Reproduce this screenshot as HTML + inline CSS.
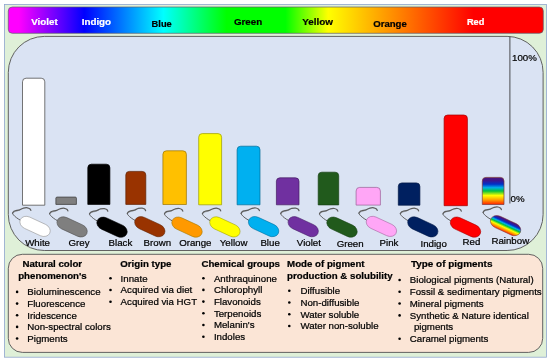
<!DOCTYPE html><html><head><meta charset="utf-8"><title>Bacterial pigments</title>
<style>html,body{margin:0;padding:0;background:#fff}svg{display:block}text{font-family:"Liberation Sans",Arial,Helvetica,sans-serif;font-size:9.7px;fill:#000;stroke:#000;stroke-width:0.22px;paint-order:stroke}.b{font-weight:bold}.w{fill:#fff;stroke:#fff}</style></head><body>
<svg width="550" height="362" viewBox="0 0 550 362">
<defs>
<linearGradient id="sp" x1="0" y1="0" x2="1" y2="0"><stop offset="0" stop-color="#ff00ff"/><stop offset="0.02" stop-color="#ff00ff"/><stop offset="0.142" stop-color="#0000ff"/><stop offset="0.29" stop-color="#00ffff"/><stop offset="0.408" stop-color="#00ff00"/><stop offset="0.518" stop-color="#00ff00"/><stop offset="0.598" stop-color="#ffff00"/><stop offset="0.87" stop-color="#ff0000"/><stop offset="1" stop-color="#ff0000"/></linearGradient>
<linearGradient id="rb" x1="0" y1="0" x2="0" y2="1"><stop offset="0" stop-color="#4a1478"/><stop offset="0.12" stop-color="#3a1590"/><stop offset="0.25" stop-color="#0030c8"/><stop offset="0.38" stop-color="#00b0e8"/><stop offset="0.5" stop-color="#00c040"/><stop offset="0.67" stop-color="#ffff00"/><stop offset="0.84" stop-color="#ff9800"/><stop offset="1" stop-color="#ff2000"/></linearGradient>
</defs>
<rect x="0" y="0" width="550" height="362" fill="#fff"/>
<rect x="4.4" y="4.4" width="542.1" height="352.8" fill="#dff0d8" stroke="#8fa6cf" stroke-width="0.8"/>
<rect x="8.3" y="7.0" width="535" height="26.3" rx="4" fill="url(#sp)" stroke="#5f5f6b" stroke-width="0.7"/>
<rect x="8.3" y="36.4" width="534.8" height="214.1" rx="36" fill="#dae3f3" stroke="#5a5a5a" stroke-width="0.95"/>
<rect x="8.3" y="254.3" width="534.4" height="98.1" rx="14" fill="#fbe5d6" stroke="#5a5a5a" stroke-width="0.95"/>
<line x1="509.9" y1="36.6" x2="509.9" y2="203.5" stroke="#262626" stroke-width="0.8"/>
<text x="512" y="61.2">100%</text>
<text x="510.6" y="202.3">0%</text>
<text class="b w" x="31.3" y="25.0" style="font-size:9.75px">Violet</text>
<text class="b w" x="81.7" y="25.0" style="font-size:9.8px">Indigo</text>
<text class="b " x="151.6" y="26.5" style="font-size:9.3px">Blue</text>
<text class="b " x="233.9" y="24.9" style="font-size:9.8px">Green</text>
<text class="b " x="302.3" y="24.9" style="font-size:9.9px">Yellow</text>
<text class="b " x="373.2" y="26.5" style="font-size:9.6px">Orange</text>
<text class="b w" x="466.9" y="25.2" style="font-size:9.2px">Red</text>
<path d="M22.5 205.2V81.8Q22.5 78.2 26.1 78.2H41.2Q44.8 78.2 44.8 81.8V205.2Z" fill="#ffffff" stroke="#5c5c5c" stroke-width="0.85"/>
<path d="M55.9 204.4V198.2Q55.9 197.1 57.1 197.1H75.2Q76.4 197.1 76.4 198.2V204.4Z" fill="#7f7f7f" stroke="#484848" stroke-width="0.85"/>
<path d="M87.8 204.4V167.8Q87.8 164.2 91.4 164.2H106.3Q109.9 164.2 109.9 167.8V204.4Z" fill="#000000" stroke="#000000" stroke-width="0.7"/>
<path d="M125.8 204.4V175.0Q125.8 171.4 129.4 171.4H142.2Q145.8 171.4 145.8 175.0V204.4Z" fill="#993300" stroke="#5e2000" stroke-width="0.7"/>
<path d="M162.9 204.5V154.3Q162.9 150.8 166.5 150.8H182.8Q186.4 150.8 186.4 154.3V204.5Z" fill="#ffc000" stroke="#9a7400" stroke-width="0.7"/>
<path d="M198.7 204.8V137.2Q198.7 133.6 202.3 133.6H218.0Q221.6 133.6 221.6 137.2V204.8Z" fill="#ffff00" stroke="#9a9a00" stroke-width="0.7"/>
<path d="M237.1 204.8V149.8Q237.1 146.2 240.7 146.2H256.4Q260.0 146.2 260.0 149.8V204.8Z" fill="#00b0f0" stroke="#006a96" stroke-width="0.7"/>
<path d="M276.4 204.8V181.3Q276.4 177.8 280.0 177.8H295.4Q299.0 177.8 299.0 181.3V204.8Z" fill="#7030a0" stroke="#431b62" stroke-width="0.7"/>
<path d="M318.2 204.9V175.8Q318.2 172.2 321.8 172.2H335.1Q338.7 172.2 338.7 175.8V204.9Z" fill="#215a1c" stroke="#174014" stroke-width="0.7"/>
<path d="M356.1 205.1V191.0Q356.1 187.4 359.7 187.4H376.8Q380.4 187.4 380.4 191.0V205.1Z" fill="#ffa6f6" stroke="#9a5f96" stroke-width="0.7"/>
<path d="M398.3 205.2V186.5Q398.3 182.9 401.9 182.9H416.3Q419.9 182.9 419.9 186.5V205.2Z" fill="#002060" stroke="#001745" stroke-width="0.7"/>
<path d="M444.1 205.7V118.5Q444.1 115.0 447.7 115.0H463.8Q467.4 115.0 467.4 118.5V205.7Z" fill="#ff0000" stroke="#a00000" stroke-width="0.7"/>
<path d="M482.3 204.5V181.0Q482.3 177.4 485.9 177.4H500.4Q504.0 177.4 504.0 181.0V204.5Z" fill="url(#rb)" stroke="#7a3a3a" stroke-width="0.7"/>
<g transform="translate(-76.95 -0.80)">
<path d="M89.7 214C90.6 212.9 92.4 212.7 94.4 212.2C96.6 211.6 98.4 210.2 100.5 208.9L96.6 210.7C94.6 211.3 91.6 211.4 90.8 212.2Z" fill="#a8aeb8" stroke="none"/>
<path d="M97 220.8C95 219.8 91.5 217.2 90.4 215.7C89.8 214.9 89.4 214.5 89.5 214" fill="none" stroke="#484848" stroke-width="0.85" stroke-linecap="round"/>
<path d="M89.5 214C89.7 213.2 90.2 212.6 90.8 212.2C91.6 211.7 92.2 211.6 92.7 211.45C94 211.2 95.4 211.1 96.6 210.7C98 210.2 99 209.3 100.5 208.9C101.8 208.6 103.2 208.4 104.3 208.6C105.4 208.8 106.1 209.1 106.7 209.5C107.3 210 107.6 210.6 107.8 211.2" fill="none" stroke="#5c5c5c" stroke-width="1.25" stroke-linecap="round" stroke-linejoin="round"/>
<rect x="-16.2" y="-6.2" width="32.4" height="12.4" rx="7.5" ry="6.2" transform="translate(112 227.2) rotate(24.8)" fill="#ffffff" stroke="#8a8a8a" stroke-width="0.5"/>
</g>
<g transform="translate(-39.90 -0.30)">
<path d="M89.7 214C90.6 212.9 92.4 212.7 94.4 212.2C96.6 211.6 98.4 210.2 100.5 208.9L96.6 210.7C94.6 211.3 91.6 211.4 90.8 212.2Z" fill="#a8aeb8" stroke="none"/>
<path d="M97 220.8C95 219.8 91.5 217.2 90.4 215.7C89.8 214.9 89.4 214.5 89.5 214" fill="none" stroke="#484848" stroke-width="0.85" stroke-linecap="round"/>
<path d="M89.5 214C89.7 213.2 90.2 212.6 90.8 212.2C91.6 211.7 92.2 211.6 92.7 211.45C94 211.2 95.4 211.1 96.6 210.7C98 210.2 99 209.3 100.5 208.9C101.8 208.6 103.2 208.4 104.3 208.6C105.4 208.8 106.1 209.1 106.7 209.5C107.3 210 107.6 210.6 107.8 211.2" fill="none" stroke="#5c5c5c" stroke-width="1.25" stroke-linecap="round" stroke-linejoin="round"/>
<rect x="-16.2" y="-6.2" width="32.4" height="12.4" rx="7.5" ry="6.2" transform="translate(112 227.2) rotate(24.8)" fill="#7f7f7f" stroke="#484848" stroke-width="0.5"/>
</g>
<g transform="translate(0.00 0.00)">
<path d="M89.7 214C90.6 212.9 92.4 212.7 94.4 212.2C96.6 211.6 98.4 210.2 100.5 208.9L96.6 210.7C94.6 211.3 91.6 211.4 90.8 212.2Z" fill="#a8aeb8" stroke="none"/>
<path d="M97 220.8C95 219.8 91.5 217.2 90.4 215.7C89.8 214.9 89.4 214.5 89.5 214" fill="none" stroke="#484848" stroke-width="0.85" stroke-linecap="round"/>
<path d="M89.5 214C89.7 213.2 90.2 212.6 90.8 212.2C91.6 211.7 92.2 211.6 92.7 211.45C94 211.2 95.4 211.1 96.6 210.7C98 210.2 99 209.3 100.5 208.9C101.8 208.6 103.2 208.4 104.3 208.6C105.4 208.8 106.1 209.1 106.7 209.5C107.3 210 107.6 210.6 107.8 211.2" fill="none" stroke="#5c5c5c" stroke-width="1.25" stroke-linecap="round" stroke-linejoin="round"/>
<rect x="-16.2" y="-6.2" width="32.4" height="12.4" rx="7.5" ry="6.2" transform="translate(112 227.2) rotate(24.8)" fill="#000000" stroke="#000000" stroke-width="0.5"/>
</g>
<g transform="translate(37.80 -0.50)">
<path d="M89.7 214C90.6 212.9 92.4 212.7 94.4 212.2C96.6 211.6 98.4 210.2 100.5 208.9L96.6 210.7C94.6 211.3 91.6 211.4 90.8 212.2Z" fill="#a8aeb8" stroke="none"/>
<path d="M97 220.8C95 219.8 91.5 217.2 90.4 215.7C89.8 214.9 89.4 214.5 89.5 214" fill="none" stroke="#484848" stroke-width="0.85" stroke-linecap="round"/>
<path d="M89.5 214C89.7 213.2 90.2 212.6 90.8 212.2C91.6 211.7 92.2 211.6 92.7 211.45C94 211.2 95.4 211.1 96.6 210.7C98 210.2 99 209.3 100.5 208.9C101.8 208.6 103.2 208.4 104.3 208.6C105.4 208.8 106.1 209.1 106.7 209.5C107.3 210 107.6 210.6 107.8 211.2" fill="none" stroke="#5c5c5c" stroke-width="1.25" stroke-linecap="round" stroke-linejoin="round"/>
<rect x="-16.2" y="-6.2" width="32.4" height="12.4" rx="7.5" ry="6.2" transform="translate(112 227.2) rotate(24.8)" fill="#993300" stroke="#5e2000" stroke-width="0.5"/>
</g>
<g transform="translate(75.00 -0.10)">
<path d="M89.7 214C90.6 212.9 92.4 212.7 94.4 212.2C96.6 211.6 98.4 210.2 100.5 208.9L96.6 210.7C94.6 211.3 91.6 211.4 90.8 212.2Z" fill="#a8aeb8" stroke="none"/>
<path d="M97 220.8C95 219.8 91.5 217.2 90.4 215.7C89.8 214.9 89.4 214.5 89.5 214" fill="none" stroke="#484848" stroke-width="0.85" stroke-linecap="round"/>
<path d="M89.5 214C89.7 213.2 90.2 212.6 90.8 212.2C91.6 211.7 92.2 211.6 92.7 211.45C94 211.2 95.4 211.1 96.6 210.7C98 210.2 99 209.3 100.5 208.9C101.8 208.6 103.2 208.4 104.3 208.6C105.4 208.8 106.1 209.1 106.7 209.5C107.3 210 107.6 210.6 107.8 211.2" fill="none" stroke="#5c5c5c" stroke-width="1.25" stroke-linecap="round" stroke-linejoin="round"/>
<rect x="-16.2" y="-6.2" width="32.4" height="12.4" rx="7.5" ry="6.2" transform="translate(112 227.2) rotate(24.8)" fill="#ff9900" stroke="#9a7400" stroke-width="0.5"/>
</g>
<g transform="translate(112.90 -0.30)">
<path d="M89.7 214C90.6 212.9 92.4 212.7 94.4 212.2C96.6 211.6 98.4 210.2 100.5 208.9L96.6 210.7C94.6 211.3 91.6 211.4 90.8 212.2Z" fill="#a8aeb8" stroke="none"/>
<path d="M97 220.8C95 219.8 91.5 217.2 90.4 215.7C89.8 214.9 89.4 214.5 89.5 214" fill="none" stroke="#484848" stroke-width="0.85" stroke-linecap="round"/>
<path d="M89.5 214C89.7 213.2 90.2 212.6 90.8 212.2C91.6 211.7 92.2 211.6 92.7 211.45C94 211.2 95.4 211.1 96.6 210.7C98 210.2 99 209.3 100.5 208.9C101.8 208.6 103.2 208.4 104.3 208.6C105.4 208.8 106.1 209.1 106.7 209.5C107.3 210 107.6 210.6 107.8 211.2" fill="none" stroke="#5c5c5c" stroke-width="1.25" stroke-linecap="round" stroke-linejoin="round"/>
<rect x="-16.2" y="-6.2" width="32.4" height="12.4" rx="7.5" ry="6.2" transform="translate(112 227.2) rotate(24.8)" fill="#ffff00" stroke="#9a9a00" stroke-width="0.5"/>
</g>
<g transform="translate(151.60 -0.60)">
<path d="M89.7 214C90.6 212.9 92.4 212.7 94.4 212.2C96.6 211.6 98.4 210.2 100.5 208.9L96.6 210.7C94.6 211.3 91.6 211.4 90.8 212.2Z" fill="#a8aeb8" stroke="none"/>
<path d="M97 220.8C95 219.8 91.5 217.2 90.4 215.7C89.8 214.9 89.4 214.5 89.5 214" fill="none" stroke="#484848" stroke-width="0.85" stroke-linecap="round"/>
<path d="M89.5 214C89.7 213.2 90.2 212.6 90.8 212.2C91.6 211.7 92.2 211.6 92.7 211.45C94 211.2 95.4 211.1 96.6 210.7C98 210.2 99 209.3 100.5 208.9C101.8 208.6 103.2 208.4 104.3 208.6C105.4 208.8 106.1 209.1 106.7 209.5C107.3 210 107.6 210.6 107.8 211.2" fill="none" stroke="#5c5c5c" stroke-width="1.25" stroke-linecap="round" stroke-linejoin="round"/>
<rect x="-16.2" y="-6.2" width="32.4" height="12.4" rx="7.5" ry="6.2" transform="translate(112 227.2) rotate(24.8)" fill="#00b0f0" stroke="#006a96" stroke-width="0.5"/>
</g>
<g transform="translate(191.20 -0.50)">
<path d="M89.7 214C90.6 212.9 92.4 212.7 94.4 212.2C96.6 211.6 98.4 210.2 100.5 208.9L96.6 210.7C94.6 211.3 91.6 211.4 90.8 212.2Z" fill="#a8aeb8" stroke="none"/>
<path d="M97 220.8C95 219.8 91.5 217.2 90.4 215.7C89.8 214.9 89.4 214.5 89.5 214" fill="none" stroke="#484848" stroke-width="0.85" stroke-linecap="round"/>
<path d="M89.5 214C89.7 213.2 90.2 212.6 90.8 212.2C91.6 211.7 92.2 211.6 92.7 211.45C94 211.2 95.4 211.1 96.6 210.7C98 210.2 99 209.3 100.5 208.9C101.8 208.6 103.2 208.4 104.3 208.6C105.4 208.8 106.1 209.1 106.7 209.5C107.3 210 107.6 210.6 107.8 211.2" fill="none" stroke="#5c5c5c" stroke-width="1.25" stroke-linecap="round" stroke-linejoin="round"/>
<rect x="-16.2" y="-6.2" width="32.4" height="12.4" rx="7.5" ry="6.2" transform="translate(112 227.2) rotate(24.8)" fill="#7030a0" stroke="#431b62" stroke-width="0.5"/>
</g>
<g transform="translate(230.00 -0.10)">
<path d="M89.7 214C90.6 212.9 92.4 212.7 94.4 212.2C96.6 211.6 98.4 210.2 100.5 208.9L96.6 210.7C94.6 211.3 91.6 211.4 90.8 212.2Z" fill="#a8aeb8" stroke="none"/>
<path d="M97 220.8C95 219.8 91.5 217.2 90.4 215.7C89.8 214.9 89.4 214.5 89.5 214" fill="none" stroke="#484848" stroke-width="0.85" stroke-linecap="round"/>
<path d="M89.5 214C89.7 213.2 90.2 212.6 90.8 212.2C91.6 211.7 92.2 211.6 92.7 211.45C94 211.2 95.4 211.1 96.6 210.7C98 210.2 99 209.3 100.5 208.9C101.8 208.6 103.2 208.4 104.3 208.6C105.4 208.8 106.1 209.1 106.7 209.5C107.3 210 107.6 210.6 107.8 211.2" fill="none" stroke="#5c5c5c" stroke-width="1.25" stroke-linecap="round" stroke-linejoin="round"/>
<rect x="-16.2" y="-6.2" width="32.4" height="12.4" rx="7.5" ry="6.2" transform="translate(112 227.2) rotate(24.8)" fill="#215a1c" stroke="#174014" stroke-width="0.5"/>
</g>
<g transform="translate(269.40 -0.80)">
<path d="M89.7 214C90.6 212.9 92.4 212.7 94.4 212.2C96.6 211.6 98.4 210.2 100.5 208.9L96.6 210.7C94.6 211.3 91.6 211.4 90.8 212.2Z" fill="#a8aeb8" stroke="none"/>
<path d="M97 220.8C95 219.8 91.5 217.2 90.4 215.7C89.8 214.9 89.4 214.5 89.5 214" fill="none" stroke="#484848" stroke-width="0.85" stroke-linecap="round"/>
<path d="M89.5 214C89.7 213.2 90.2 212.6 90.8 212.2C91.6 211.7 92.2 211.6 92.7 211.45C94 211.2 95.4 211.1 96.6 210.7C98 210.2 99 209.3 100.5 208.9C101.8 208.6 103.2 208.4 104.3 208.6C105.4 208.8 106.1 209.1 106.7 209.5C107.3 210 107.6 210.6 107.8 211.2" fill="none" stroke="#5c5c5c" stroke-width="1.25" stroke-linecap="round" stroke-linejoin="round"/>
<rect x="-16.2" y="-6.2" width="32.4" height="12.4" rx="7.5" ry="6.2" transform="translate(112 227.2) rotate(24.8)" fill="#ffa6f6" stroke="#9a5f96" stroke-width="0.5"/>
</g>
<g transform="translate(310.80 -0.30)">
<path d="M89.7 214C90.6 212.9 92.4 212.7 94.4 212.2C96.6 211.6 98.4 210.2 100.5 208.9L96.6 210.7C94.6 211.3 91.6 211.4 90.8 212.2Z" fill="#a8aeb8" stroke="none"/>
<path d="M97 220.8C95 219.8 91.5 217.2 90.4 215.7C89.8 214.9 89.4 214.5 89.5 214" fill="none" stroke="#484848" stroke-width="0.85" stroke-linecap="round"/>
<path d="M89.5 214C89.7 213.2 90.2 212.6 90.8 212.2C91.6 211.7 92.2 211.6 92.7 211.45C94 211.2 95.4 211.1 96.6 210.7C98 210.2 99 209.3 100.5 208.9C101.8 208.6 103.2 208.4 104.3 208.6C105.4 208.8 106.1 209.1 106.7 209.5C107.3 210 107.6 210.6 107.8 211.2" fill="none" stroke="#5c5c5c" stroke-width="1.25" stroke-linecap="round" stroke-linejoin="round"/>
<rect x="-16.2" y="-6.2" width="32.4" height="12.4" rx="7.5" ry="6.2" transform="translate(112 227.2) rotate(24.8)" fill="#002060" stroke="#001745" stroke-width="0.5"/>
</g>
<g transform="translate(353.50 -0.10)">
<path d="M89.7 214C90.6 212.9 92.4 212.7 94.4 212.2C96.6 211.6 98.4 210.2 100.5 208.9L96.6 210.7C94.6 211.3 91.6 211.4 90.8 212.2Z" fill="#a8aeb8" stroke="none"/>
<path d="M97 220.8C95 219.8 91.5 217.2 90.4 215.7C89.8 214.9 89.4 214.5 89.5 214" fill="none" stroke="#484848" stroke-width="0.85" stroke-linecap="round"/>
<path d="M89.5 214C89.7 213.2 90.2 212.6 90.8 212.2C91.6 211.7 92.2 211.6 92.7 211.45C94 211.2 95.4 211.1 96.6 210.7C98 210.2 99 209.3 100.5 208.9C101.8 208.6 103.2 208.4 104.3 208.6C105.4 208.8 106.1 209.1 106.7 209.5C107.3 210 107.6 210.6 107.8 211.2" fill="none" stroke="#5c5c5c" stroke-width="1.25" stroke-linecap="round" stroke-linejoin="round"/>
<rect x="-16.2" y="-6.2" width="32.4" height="12.4" rx="7.5" ry="6.2" transform="translate(112 227.2) rotate(24.8)" fill="#ff0000" stroke="#a00000" stroke-width="0.5"/>
</g>
<g transform="translate(393.60 -1.60)">
<path d="M89.7 214C90.6 212.9 92.4 212.7 94.4 212.2C96.6 211.6 98.4 210.2 100.5 208.9L96.6 210.7C94.6 211.3 91.6 211.4 90.8 212.2Z" fill="#a8aeb8" stroke="none"/>
<path d="M97 220.8C95 219.8 91.5 217.2 90.4 215.7C89.8 214.9 89.4 214.5 89.5 214" fill="none" stroke="#484848" stroke-width="0.85" stroke-linecap="round"/>
<path d="M89.5 214C89.7 213.2 90.2 212.6 90.8 212.2C91.6 211.7 92.2 211.6 92.7 211.45C94 211.2 95.4 211.1 96.6 210.7C98 210.2 99 209.3 100.5 208.9C101.8 208.6 103.2 208.4 104.3 208.6C105.4 208.8 106.1 209.1 106.7 209.5C107.3 210 107.6 210.6 107.8 211.2" fill="none" stroke="#5c5c5c" stroke-width="1.25" stroke-linecap="round" stroke-linejoin="round"/>
<rect x="-16.2" y="-6.2" width="32.4" height="12.4" rx="7.5" ry="6.2" transform="translate(112 227.2) rotate(24.8)" fill="url(#rb)" stroke="#7a3a3a" stroke-width="0.5"/>
</g>
<text x="37.6" y="246.1" text-anchor="middle">White</text>
<text x="79.0" y="246.1" text-anchor="middle">Grey</text>
<text x="120.4" y="246.1" text-anchor="middle">Black</text>
<text x="157.3" y="246.1" text-anchor="middle">Brown</text>
<text x="195.3" y="246.1" text-anchor="middle">Orange</text>
<text x="233.6" y="246.1" text-anchor="middle">Yellow</text>
<text x="270.1" y="246.1" text-anchor="middle">Blue</text>
<text x="308.9" y="246.1" text-anchor="middle">Violet</text>
<text x="350.1" y="246.9" text-anchor="middle">Green</text>
<text x="389.0" y="245.7" text-anchor="middle">Pink</text>
<text x="433.7" y="246.7" text-anchor="middle">Indigo</text>
<text x="471.5" y="245.2" text-anchor="middle">Red</text>
<text x="510.3" y="244.1" text-anchor="middle">Rainbow</text>
<text class="b" x="22.4" y="267.2">Natural color</text>
<text class="b" x="18.2" y="278.9">phenomenon's</text>
<circle cx="17.1" cy="291.9" r="1.3" fill="#000"/>
<text x="27.3" y="295.3">Bioluminescence</text>
<circle cx="17.1" cy="303.6" r="1.3" fill="#000"/>
<text x="27.3" y="306.9">Fluorescence</text>
<circle cx="17.1" cy="315.2" r="1.3" fill="#000"/>
<text x="27.3" y="318.6">Iridescence</text>
<circle cx="17.1" cy="326.9" r="1.3" fill="#000"/>
<text x="27.3" y="330.2">Non-spectral colors</text>
<circle cx="17.1" cy="338.5" r="1.3" fill="#000"/>
<text x="27.3" y="341.9">Pigments</text>
<text class="b" x="120.3" y="267.2">Origin type</text>
<circle cx="110.5" cy="278.2" r="1.3" fill="#000"/>
<text x="120.6" y="281.6">Innate</text>
<circle cx="110.5" cy="290.0" r="1.3" fill="#000"/>
<text x="120.6" y="293.4">Acquired via diet</text>
<circle cx="110.5" cy="301.8" r="1.3" fill="#000"/>
<text x="120.6" y="305.2">Acquired via HGT</text>
<text class="b" x="201.4" y="267.2">Chemical groups</text>
<circle cx="203.4" cy="278.2" r="1.3" fill="#000"/>
<text x="213.9" y="281.6">Anthraquinone</text>
<circle cx="203.4" cy="289.9" r="1.3" fill="#000"/>
<text x="213.9" y="293.3">Chlorophyll</text>
<circle cx="203.4" cy="301.6" r="1.3" fill="#000"/>
<text x="213.9" y="305.0">Flavonoids</text>
<circle cx="203.4" cy="313.3" r="1.3" fill="#000"/>
<text x="213.9" y="316.7">Terpenoids</text>
<circle cx="203.4" cy="325.0" r="1.3" fill="#000"/>
<text x="213.9" y="328.4">Melanin's</text>
<circle cx="203.4" cy="336.7" r="1.3" fill="#000"/>
<text x="213.9" y="340.1">Indoles</text>
<text class="b" x="287.1" y="267.2">Mode of pigment</text>
<text class="b" x="287.1" y="278.9">production &amp; solubility</text>
<circle cx="289.3" cy="290.7" r="1.3" fill="#000"/>
<text x="300.4" y="294.1">Diffusible</text>
<circle cx="289.3" cy="302.5" r="1.3" fill="#000"/>
<text x="300.4" y="305.9">Non-diffusible</text>
<circle cx="289.3" cy="314.2" r="1.3" fill="#000"/>
<text x="300.4" y="317.6">Water soluble</text>
<circle cx="289.3" cy="326.0" r="1.3" fill="#000"/>
<text x="300.4" y="329.4">Water non-soluble</text>
<text class="b" x="410.9" y="267.2" style="font-size:9.95px">Type of pigments</text>
<circle cx="399.6" cy="280.0" r="1.3" fill="#000"/>
<text x="409.8" y="283.4">Biological pigments (Natural)</text>
<circle cx="399.6" cy="291.8" r="1.3" fill="#000"/>
<text x="409.8" y="295.2">Fossil &amp; sedimentary pigments</text>
<circle cx="399.6" cy="303.5" r="1.3" fill="#000"/>
<text x="409.8" y="306.9">Mineral pigments</text>
<circle cx="399.6" cy="315.4" r="1.3" fill="#000"/>
<text x="409.8" y="318.8">Synthetic &amp; Nature identical</text>
<circle cx="399.6" cy="338.8" r="1.3" fill="#000"/>
<text x="409.8" y="342.2">Caramel pigments</text>
<text x="413.9" y="330.0">pigments</text>
<!--TEXT-->
</svg></body></html>
